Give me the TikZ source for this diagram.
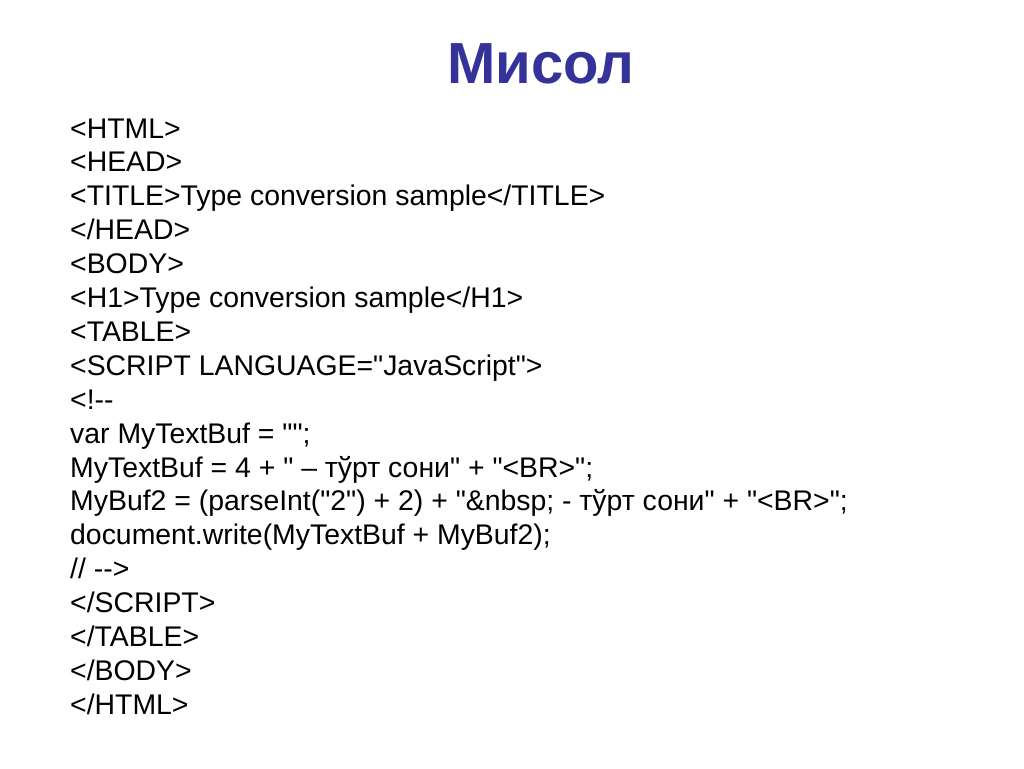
\documentclass[tikz,border=0pt]{standalone}
\usepackage{fontspec}
\newfontfamily\code{Liberation Sans}
\definecolor{titleblue}{RGB}{51,51,153}
\begin{document}
\begin{tikzpicture}[x=1pt,y=-1pt,
  ln/.style={anchor=base west,inner sep=0pt,font=\code\fontsize{28.4}{32}\selectfont}]
\useasboundingbox (0,0) rectangle (1024,768);
\node[anchor=base,inner sep=0pt,text=titleblue,font=\code\bfseries\fontsize{58}{64}\selectfont] (title) at (541,83) {Мисол};
\node[ln] (l1) at (70,138) {<HTML>};
\node[ln] (l2) at (70,171.9) {<HEAD>};
\node[ln] (l3) at (70,205.8) {<TITLE>Type conversion sample</TITLE>};
\node[ln] (l4) at (70,239.7) {</HEAD>};
\node[ln] (l5) at (70,273.6) {<BODY>};
\node[ln] (l6) at (70,307.5) {<H1>Type conversion sample</H1>};
\node[ln] (l7) at (70,341.4) {<TABLE>};
\node[ln] (l8) at (70,375.3) {<SCRIPT LANGUAGE="JavaScript">};
\node[ln] (l9) at (70,409.2) {<!--};
\node[ln] (l10) at (70,443.1) {var MyTextBuf = "";};
\node[ln] (l11) at (70,477) {MyTextBuf = 4 + " – тўрт сони" + "<BR>";};
\node[ln] (l12) at (70,510.9) {MyBuf2 = (parseInt("2") + 2) + "\&nbsp; - тўрт сони" + "<BR>";};
\node[ln] (l13) at (70,544.8) {document.write(MyTextBuf + MyBuf2);};
\node[ln] (l14) at (70,578.7) {// -->};
\node[ln] (l15) at (70,612.6) {</SCRIPT>};
\node[ln] (l16) at (70,646.5) {</TABLE>};
\node[ln] (l17) at (70,680.4) {</BODY>};
\node[ln] (l18) at (70,714.3) {</HTML>};
\end{tikzpicture}
\end{document}
